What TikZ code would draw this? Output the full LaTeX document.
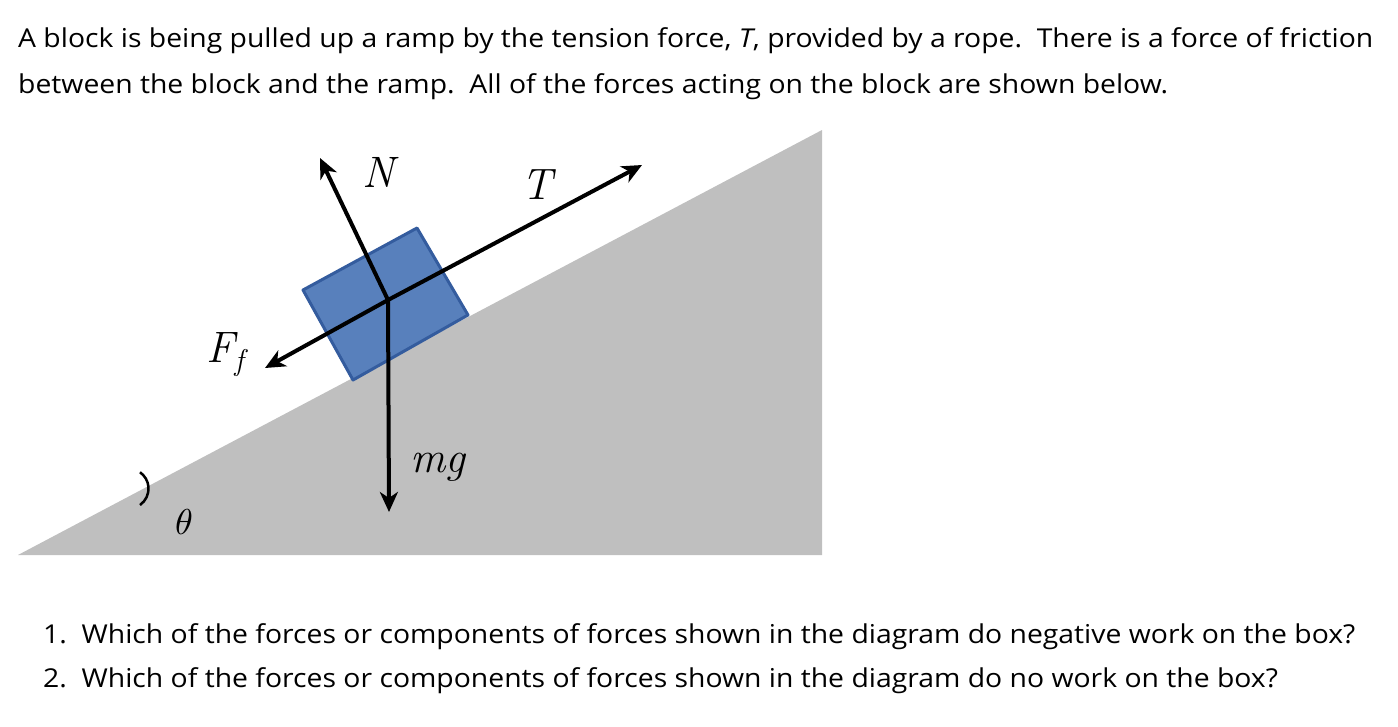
\documentclass[tikz,border=0pt]{standalone}
\usepackage{fontspec}
\setmainfont[FakeStretch=1.09]{Open Sans}
\newfontfamily\lmr{Latin Modern Roman}
\usetikzlibrary{arrows.meta}
\begin{document}
\begin{tikzpicture}[x=1pt,y=-1pt,
  txt/.style={anchor=base west,inner sep=0pt,font=\fontsize{26}{30}\selectfont},
  lab/.style={inner sep=0pt,font=\lmr\itshape\fontsize{44}{48}\selectfont},
  force/.style={line width=4pt,-{Stealth[length=20pt,width=18pt,inset=6pt]}}]
\useasboundingbox (0,0) rectangle (1398,726);
\node[txt] (l1) at (18,47) {A block is being pulled up a ramp by the tension force, \textit{T}, provided by a rope.\ \ There is a force of friction};
\node[txt] (l2) at (18,93) {between the block and the ramp.\ \ All of the forces acting on the block are shown below.};
\node[txt] (q1) at (43,643) {1.\ \ Which of the forces or components of forces shown in the diagram do negative work on the box?};
\node[txt] (q2) at (43,687) {2.\ \ Which of the forces or components of forces shown in the diagram do no work on the box?};
\fill[gray!50] (18,555) -- (822,555) -- (822,130) -- cycle;
\draw[fill={rgb,255:red,88;green,128;blue,188},draw={rgb,255:red,52;green,92;blue,158},line width=3pt,line join=round]
  (417,228) -- (468,315) -- (353,380) -- (303,290) -- cycle;
\coordinate (o) at (388,300);
\coordinate (tT) at (642,165);
\coordinate (tN) at (320,158);
\coordinate (tF) at (265,368);
\coordinate (tM) at (389,512);
\draw[force] (o) -- (tT);
\draw[force] (o) -- (tN);
\draw[force] (o) -- (tF);
\draw[force] (o) -- (tM);
\node[lab] (N) at (378,172) {N};
\node[lab] (T) at (537,185) {T};
\node[lab] (F) at (225,355) {F\raisebox{-8pt}{\fontsize{30}{32}\selectfont f}};
\node[lab] (mg) at (438,467) {mg};
\node[inner sep=0pt] (th) at (184,522) {\scalebox{3.6}{$\theta$}};
\draw[line width=2.5pt] (140,505) arc[start angle=55,end angle=-55,radius=20];
\end{tikzpicture}
\end{document}
